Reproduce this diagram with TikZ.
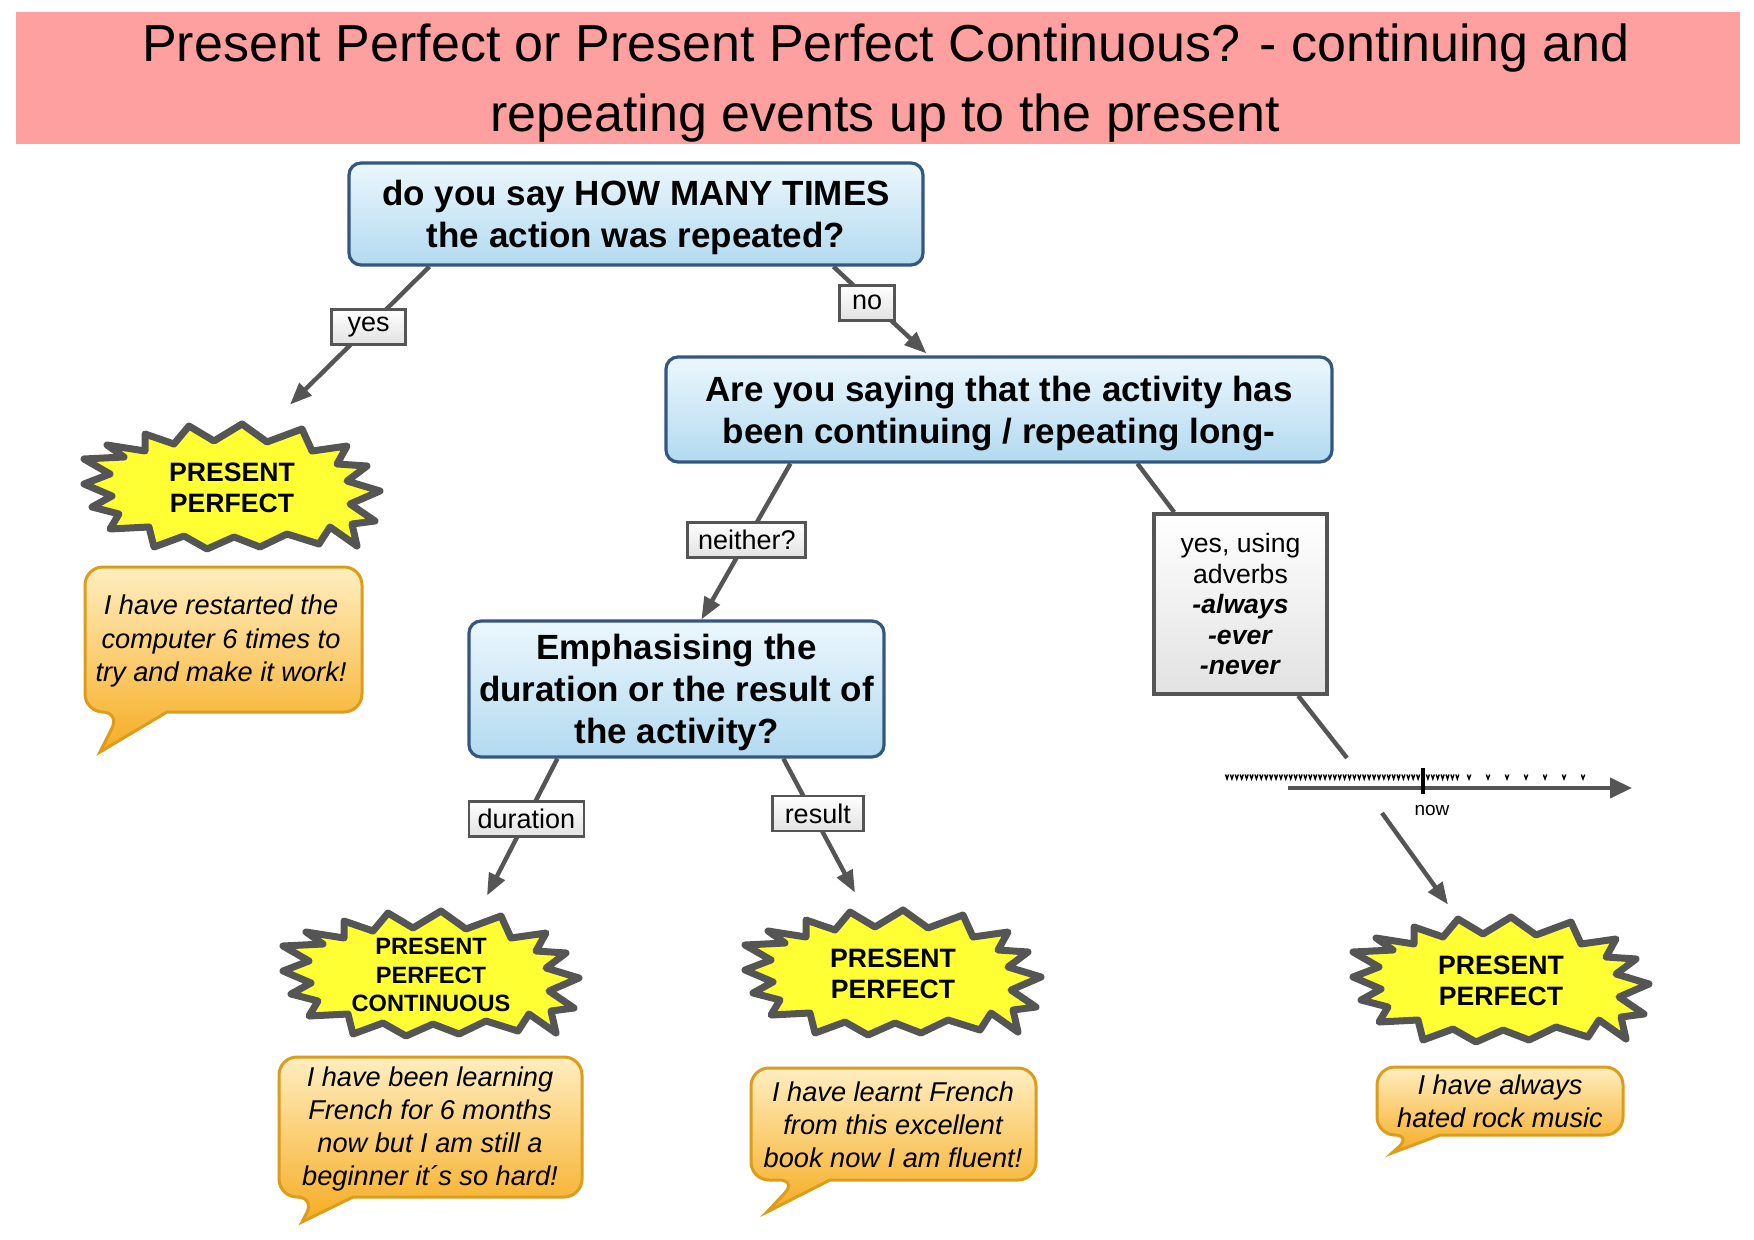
\documentclass[tikz,border=0pt]{standalone}
\usepackage{fontspec}
\setmainfont{Liberation Sans}
\usetikzlibrary{arrows.meta,calc}
\definecolor{titlepink}{RGB}{255,160,160}
\definecolor{cgray}{RGB}{85,85,85}
\definecolor{qborder}{RGB}{52,86,128}
\definecolor{qtop}{RGB}{236,247,253}
\definecolor{qbot}{RGB}{178,218,240}
\definecolor{lgray}{RGB}{226,226,226}
\definecolor{burstfill}{RGB}{255,255,51}
\definecolor{burstline}{RGB}{85,85,85}
\definecolor{btop}{RGB}{255,238,192}
\definecolor{bmid}{RGB}{251,200,90}
\definecolor{bbot}{RGB}{246,172,34}
\definecolor{bborder}{RGB}{220,156,28}

\newcommand\titlefont{\fontsize{26}{30}\selectfont}
\newcommand\qfont{\fontsize{17.5}{20.8}\selectfont\bfseries}
\newcommand\labfont{\fontsize{13.5}{15.5}\selectfont}
\newcommand\burstfont{\fontsize{13.3}{15.5}\selectfont\bfseries}
\newcommand\burstsmall{\fontsize{11.8}{14.2}\selectfont\bfseries}
\newcommand\bubfont{\fontsize{13.6}{16.6}\selectfont\itshape}
\newcommand\advfont{\fontsize{13.3}{15.25}\selectfont}
\newcommand\nowfont{\fontsize{9.5}{11}\selectfont}

\newcommand\myburst[5]{%
  \begin{scope}[shift={(#2,#3)}]
    \draw[burstst] (-125,-43) -- (-108,-31) -- (-148,-29) -- (-122,-14) -- (-148,-4) -- (-120,8)
      -- (-140,19) -- (-113,26) -- (-122,41) -- (-83,39) -- (-78,59) -- (-48,48) -- (-25,61)
      -- (2,49) -- (28,59) -- (55,46) -- (87,56) -- (98,39) -- (125,58) -- (120,36) -- (143,33)
      -- (118,16) -- (148,3) -- (115,-7) -- (135,-22) -- (105,-24) -- (115,-42) -- (80,-37)
      -- (70,-59) -- (35,-46) -- (10,-64) -- (-18,-47) -- (-43,-62) -- (-58,-44) -- (-87,-54)
      -- (-87,-37) -- cycle;
  \end{scope}
  \node[bursttext, font=#4] (#1) at (#2,#3) {#5};}

\newcommand\mybubble[8]{%
  \draw[bubblest] [rounded corners=9pt] (#6,#4) -- (#3,#4) -- (#3,#2) -- (#1,#2) -- (#1,#4) -- (#5,#4)
    [sharp corners] -- (#7,#8) -- cycle;}

\begin{document}
\begin{tikzpicture}[x=0.5pt,y=-0.5pt,
  conn/.style={draw=cgray, line width=2.2pt, -{Triangle[length=11pt,width=8.5pt]}},
  connl/.style={draw=cgray, line width=2.2pt},
  qbox/.style={draw=qborder, line width=1.6pt, rounded corners=6pt, top color=qtop, bottom color=qbot,
    inner sep=0pt},
  qtext/.style={align=center, font=\qfont, inner sep=0pt},
  lab/.style={draw=cgray, line width=1.4pt, top color=white, bottom color=lgray, font=\labfont,
    inner sep=0pt, minimum height=17.5pt},
  advbox/.style={draw=cgray, line width=1.8pt, top color=white, bottom color=lgray, font=\advfont,
    align=center, inner sep=0pt},
  burstst/.style={draw=burstline, fill=burstfill, line width=3.5pt, line join=round},
  bursttext/.style={align=center, inner sep=0pt, minimum width=150pt, minimum height=65pt},
  bubblest/.style={draw=bborder, line width=1.5pt, top color=btop, middle color=bmid, bottom color=bbot},
  bubtext/.style={align=center, font=\bubfont, inner sep=0pt},
  vmark/.style={black, line width=0.7pt, line join=miter}
]
\useasboundingbox (0,0) rectangle (1754,1240);
\fill[white] (0,0) rectangle (1754,1240);

% title
\fill[titlepink] (16,12) rectangle (1740,144);
\node[anchor=base, font=\titlefont, inner sep=0pt] (t1) at (886,62) {Present Perfect or Present Perfect Continuous? - continuing and};
\node[anchor=base, font=\titlefont, inner sep=0pt] (t2) at (885,132) {repeating events up to the present};

% question boxes
\node[qbox, minimum width=287pt, minimum height=51pt] (q1) at (636,214) {};
\node[qtext] (q1t) at (636,217.5) {do you say HOW MANY TIMES\\the action was repeated?};
\node[qbox, minimum width=333pt, minimum height=52.5pt] (q2) at (999,409.5) {};
\node[qtext] (q2t) at (999,413.5) {Are you saying that the activity has\\been continuing / repeating long-};
\node[qbox, minimum width=207.5pt, minimum height=68pt] (q3) at (676.5,689) {};
\node[qtext] (q3t) at (676.5,692.5) {Emphasising the\\duration or the result of\\the activity?};
\node[advbox, minimum width=86.5pt, minimum height=90pt] (adv) at (1240.5,604)
  {yes, using\\adverbs\\\textbf{\textit{-always}}\\\textbf{\textit{-ever}}\\\textbf{\textit{-never}}};

% starbursts
\myburst{pp1}{232}{488}{\burstfont}{PRESENT\\PERFECT}
\myburst{ppc}{431}{975}{\burstsmall}{PRESENT\\PERFECT\\CONTINUOUS}
\myburst{pp2}{893}{974}{\burstfont}{PRESENT\\PERFECT}
\myburst{pp3}{1501}{981}{\burstfont}{PRESENT\\PERFECT}

% speech bubbles
\mybubble{85}{567}{362}{712}{120}{167}{100}{752}
\node[bubtext] (b1) at (221,641) {I have restarted the\\computer 6 times to\\try and make it work!};
\mybubble{279}{1057}{582}{1197}{315}{353}{302}{1222}
\node[bubtext] (b2) at (430,1129) {I have been learning\\French for 6 months\\now but I am still a\\beginner it´s so hard!};
\mybubble{751}{1068}{1036}{1180}{797}{830}{767}{1212}
\node[bubtext] (b3) at (893,1125) {I have learnt French\\from this excellent\\book now I am fluent!};
\mybubble{1377}{1067}{1623}{1135}{1412}{1440}{1392}{1153}
\node[bubtext] (b4) at (1500,1101) {I have always\\hated rock music};

% timeline
\foreach \i in {0,...,47} {
  \draw[vmark] ({1227+4.9*\i-1.5},774.5) -- ({1227+4.9*\i},779) -- ({1227+4.9*\i+1.5},774.5);
}
\foreach \i in {0,...,6} {
  \draw[vmark] ({1469+19*\i-1.7},774.5) -- ({1469+19*\i},779) -- ({1469+19*\i+1.7},774.5);
}
\coordinate (tlstart) at (1288,788);
\coordinate (tlend) at (1632,788);
\draw[draw=cgray, line width=2pt, -{Triangle[length=11pt,width=10pt]}] (tlstart) -- (tlend);
\coordinate (ticktop) at (1423,768);
\coordinate (tickbot) at (1423,794);
\draw[black, line width=1.6pt] (ticktop) -- (tickbot);
\node[font=\nowfont, inner sep=0pt] (now) at (1432,810) {now};
\coordinate (tlin) at (1347,758);
\coordinate (tlout) at (1382,813);

% connectors
\draw[conn] ($(q1.south west)+(82,0)$) -- node[lab, pos=0.436, minimum width=37pt] (lyes) {yes} ($(pp1.north)+(58,-18)$);
\draw[conn] ($(q1.south west)+(486,0)$) -- node[lab, pos=0.416, minimum width=27.5pt, xshift=-2.5pt] (lno) {no} ($(q2.north west)+(262,-2)$);
\draw[conn] ($(q2.south west)+(126,0)$) -- node[lab, pos=0.49, minimum width=59pt] (lneither) {neither?} ($(q3.north west)+(234,0)$);
\draw[conn] ($(q3.south west)+(90,0)$) -- node[lab, pos=0.44, minimum width=57.5pt] (ldur) {duration} ($(ppc.north)+(56,-14)$);
\draw[conn] ($(q3.south west)+(316,0)$) -- node[lab, pos=0.41, minimum width=45.5pt, xshift=2.5pt] (lres) {result} ($(pp2.north)+(-38,-16)$);
\draw[connl] ($(q2.south west)+(473,0)$) -- ($(adv.north west)+(22,0)$);
\draw[connl] ($(adv.south west)+(146,0)$) -- (tlin);
\draw[conn] (tlout) -- ($(pp3.north)+(-53,-11)$);
\end{tikzpicture}
\end{document}
